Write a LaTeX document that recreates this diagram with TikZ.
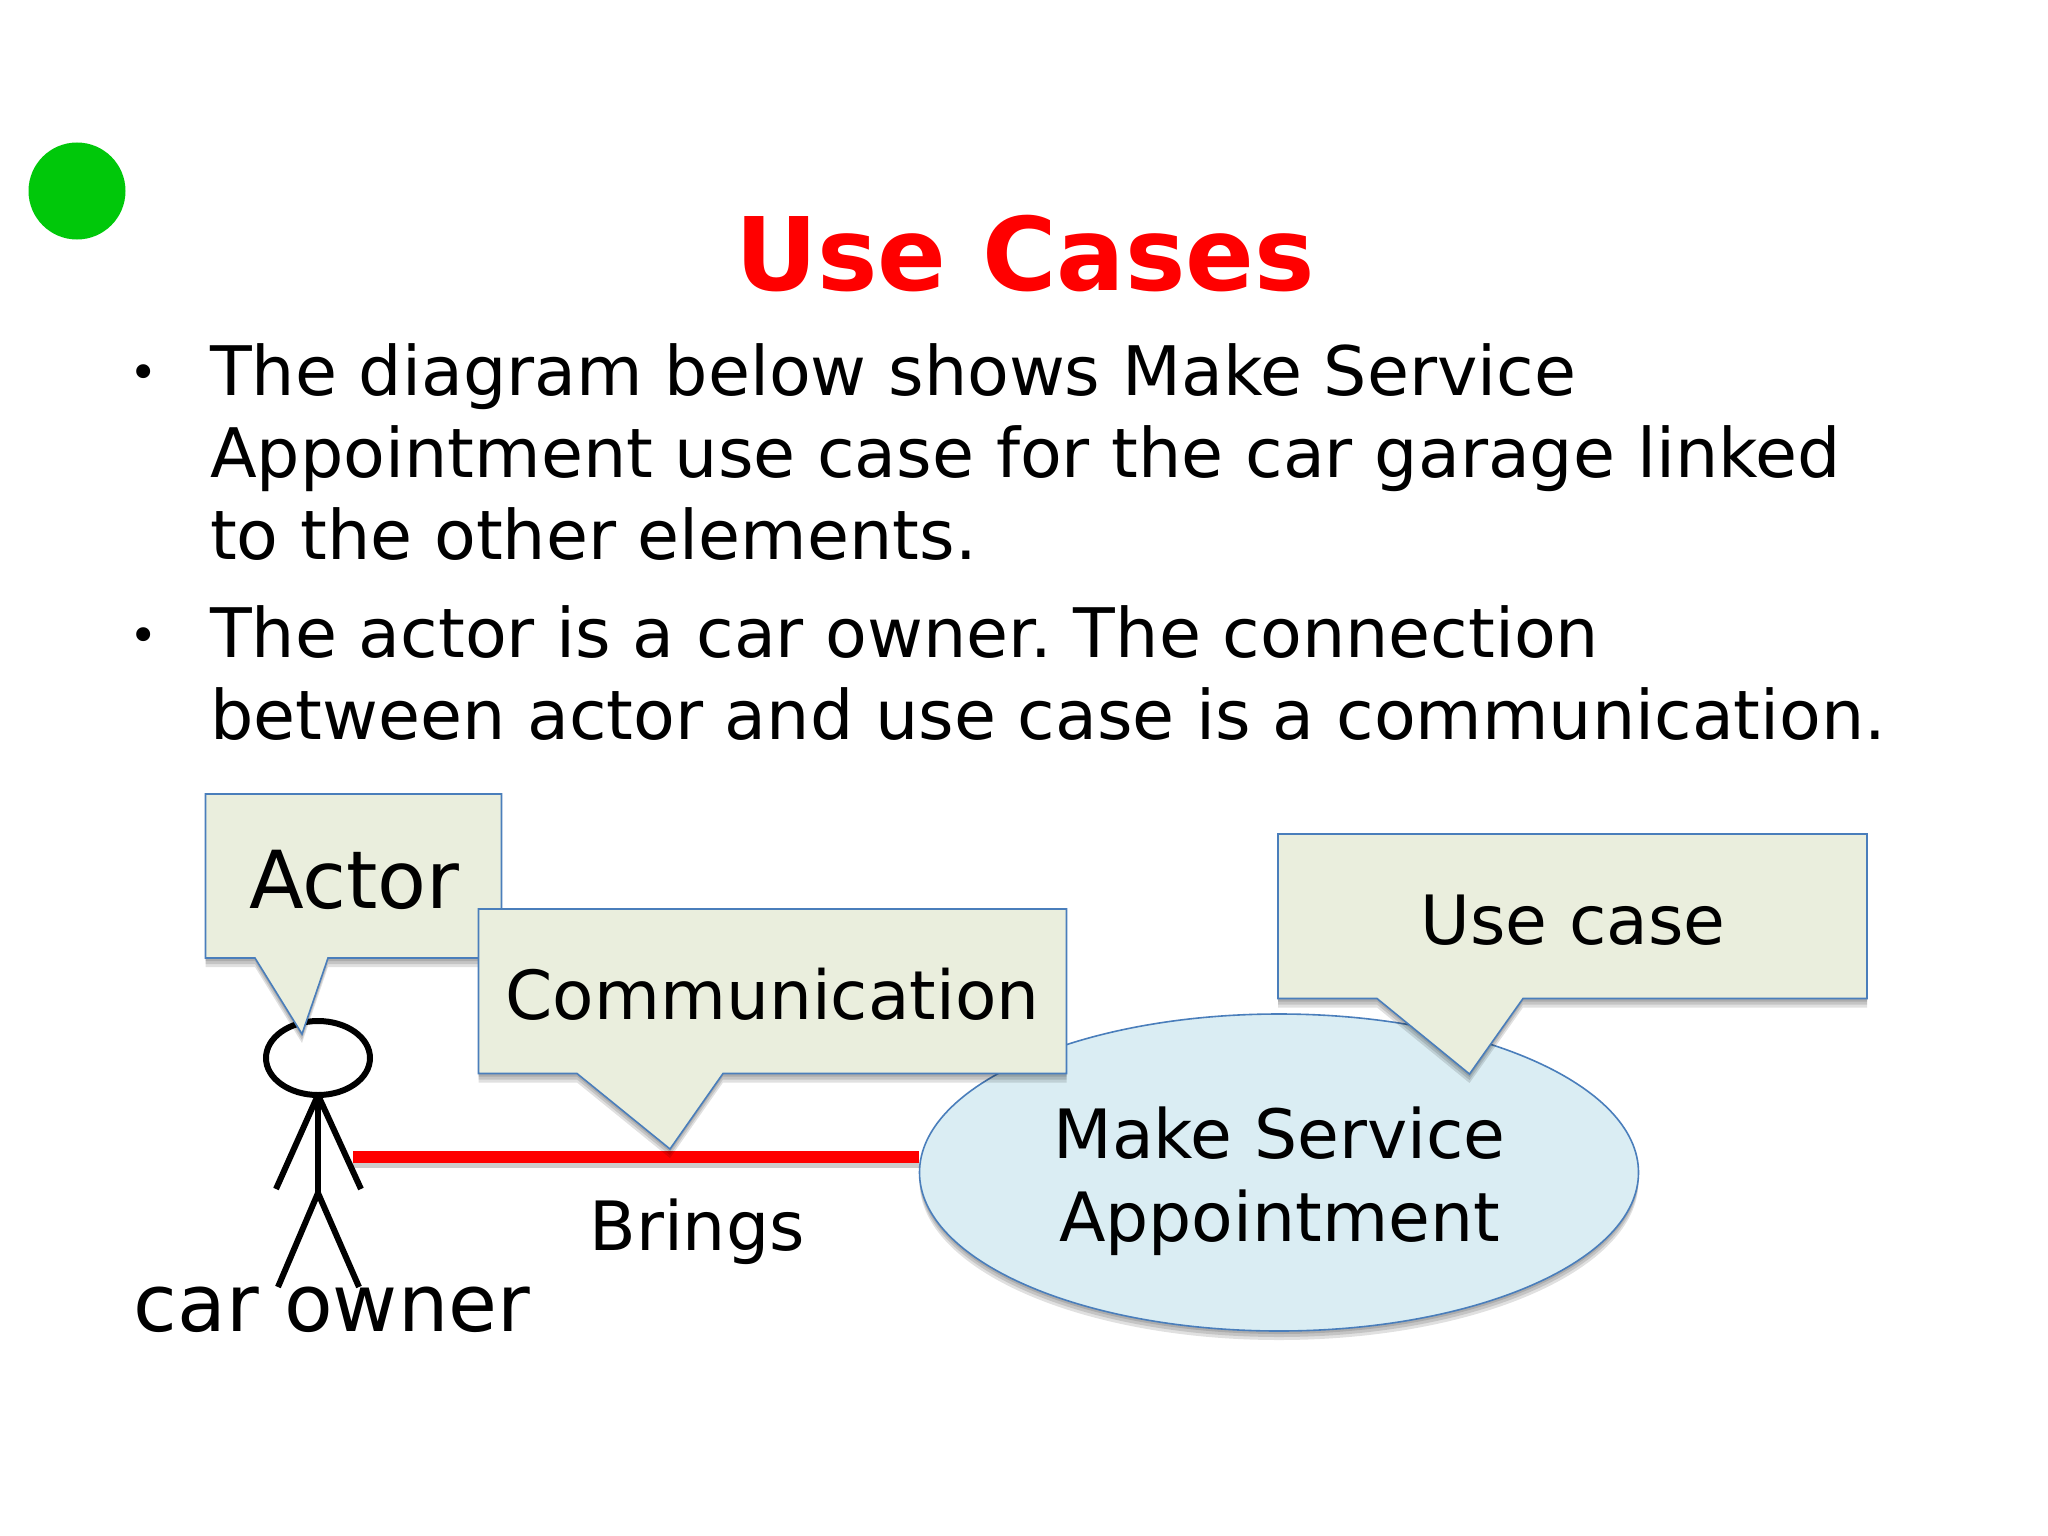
\documentclass[tikz,border=0pt]{standalone}
\usepackage{fontspec}
\usetikzlibrary{shapes.geometric}
\setmainfont{DejaVu Sans}
\definecolor{boxfill}{HTML}{EAEEDD}
\definecolor{boxline}{HTML}{4A7EBB}
\definecolor{ucfill}{HTML}{DAEDF3}
\definecolor{dotgreen}{HTML}{00C80A}
\newcommand{\fs}[2]{\fontsize{#1}{#2}\selectfont}
\frenchspacing
\tikzset{
  softshadow/.style={
    preaction={draw=none,fill=black,opacity=.12,transform canvas={yshift=-3pt}},
    preaction={draw=none,fill=black,opacity=.12,transform canvas={yshift=-6pt}},
    preaction={draw=none,fill=black,opacity=.12,transform canvas={yshift=-9pt}}},
  calloutbox/.style={fill=boxfill,draw=boxline,line width=1.6pt,line join=miter,softshadow},
  limb/.style={draw=black,line width=6pt,line cap=butt},
  lbl/.style={inner sep=0pt,anchor=base,text=black},
  para/.style={inner sep=0pt,anchor=north west,align=left,text=black,font=\fs{68.3}{82}},
  dotmark/.style={inner sep=0pt,anchor=center,text=black,font=\fs{48}{48}},
}
\begin{document}
\begin{tikzpicture}[x=1pt,y=-1pt]
\useasboundingbox (0,0) rectangle (2048,1536);
\fill[white] (0,0) rectangle (2048,1536);
% green dot
\node[circle,fill=dotgreen,minimum size=97pt,inner sep=0pt] (dot) at (77,191) {};
% title
\node[lbl,text=red,font=\fs{101.5}{101.5}\bfseries] (title) at (1025,290) {Use Cases};
% bullets
\node[dotmark] (b1) at (144,377) {•};
\node[dotmark] (b2) at (144,640) {•};
\node[para] (p1) at (210,343) {The diagram below shows Make Service\\Appointment use case for the car garage linked\\to the other elements.};
\node[para] (p2) at (210,605.5) {The actor is a car owner. The connection\\between actor and use case is a communication.};
% stick figure
\node[ellipse,draw=black,line width=6pt,minimum width=104pt,minimum height=74pt,inner sep=0pt] (head) at (318,1058) {};
\coordinate (neck) at (318,1095);
\coordinate (hip) at (318,1193);
\coordinate (handL) at (276,1189);
\coordinate (handR) at (361,1189);
\coordinate (footL) at (278,1287);
\coordinate (footR) at (359,1287);
\draw[limb] (head.south) -- (hip);
\draw[limb] (neck) -- (handL);
\draw[limb] (neck) -- (handR);
\draw[limb] (hip) -- (footL);
\draw[limb] (hip) -- (footR);
% use case ellipse
\node[ellipse,fill=ucfill,draw=boxline,line width=1.6pt,minimum width=719pt,minimum height=317pt,inner sep=0pt,softshadow] (uc) at (1279,1172.5) {};
\node[inner sep=0pt,align=center,text=black,font=\fs{68}{83}] (uct) at (1279.5,1181) {Make Service\\Appointment};
% communication line
\coordinate (comm) at (353,1157);
\draw[draw=red,line width=11.5pt,preaction={draw=black,opacity=.2,line width=11.5pt,transform canvas={yshift=-5pt}}] (comm) -- (uc.west |- comm);
% callouts
\draw[calloutbox] (205.5,794) -- (501.5,794) -- (501.5,958) -- (328,958) -- (302,1034) -- (255,958) -- (205.5,958) -- cycle;
\node[lbl,font=\fs{80}{80}] (actor) at (354.5,908) {Actor};
\draw[calloutbox] (478.5,909) -- (1066.5,909) -- (1066.5,1073.5) -- (723,1073.5) -- (670,1149) -- (577,1073.5) -- (478.5,1073.5) -- cycle;
\node[lbl,font=\fs{67.7}{67.7}] (commt) at (772.5,1019) {Communication};
\draw[calloutbox] (1278,834) -- (1867,834) -- (1867,998.5) -- (1523,998.5) -- (1469.5,1074) -- (1377,998.5) -- (1278,998.5) -- cycle;
\node[lbl,font=\fs{68}{68}] (uselbl) at (1573,944) {Use case};
% free labels
\node[lbl,font=\fs{68}{68}] (brings) at (697,1250.5) {Brings};
\node[lbl,font=\fs{79.5}{79.5}] (owner) at (332,1331) {car owner};
\end{tikzpicture}
\end{document}
